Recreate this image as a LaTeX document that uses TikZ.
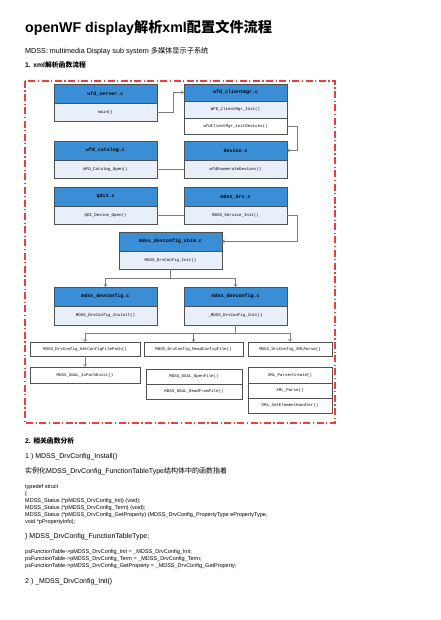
\documentclass[tikz,border=0pt]{standalone}
\usepackage{fontspec}
\setmainfont{Liberation Sans}
\setmonofont{Liberation Mono}
\newfontfamily\cjk{Noto Sans CJK SC}
\usetikzlibrary{positioning,arrows.meta}
\definecolor{hdrblue}{RGB}{58,142,214}
\definecolor{rowblue}{RGB}{232,239,248}
\definecolor{boxline}{RGB}{80,80,80}
\definecolor{linkgray}{RGB}{125,125,125}
\definecolor{framered}{RGB}{232,64,64}
\newcommand{\zh}[1]{{\cjk #1}}
\tikzset{
  hdr/.style={draw=boxline, fill=hdrblue, line width=0.6pt, minimum width=103pt, minimum height=19pt,
    inner sep=0pt, outer sep=0pt, anchor=north west, font=\ttfamily\bfseries\fontsize{5}{6}\selectfont},
  row/.style={draw=boxline, fill=rowblue, line width=0.6pt, minimum width=103pt, minimum height=18pt,
    inner sep=0pt, outer sep=0pt, font=\ttfamily\fontsize{4.1}{5}\selectfont},
  cell/.style={row, fill=white, minimum height=15pt, anchor=north west},
  link/.style={draw=linkgray, line width=0.6pt},
  arr/.style={link, -{Straight Barb[length=2.2pt,width=3.2pt]}},
  txt/.style={anchor=base west, inner sep=0pt},
  frame/.style={draw=framered, line width=1.2pt, dash pattern=on 7pt off 2.5pt on 1.2pt off 2.5pt},
}
\begin{document}
\begin{tikzpicture}[x=1pt,y=-1pt]
\useasboundingbox[fill=white] (0,0) rectangle (440,620);
% headings
\node[txt, font=\bfseries\fontsize{14.2}{16}\selectfont] (title) at (25,33) {openWF display\zh{解析}xml\zh{配置文件流程}};
\node[txt, font=\fontsize{7.2}{8}\selectfont] (sub) at (25,54) {MDSS: multimedia Display sub system \zh{多媒体显示子系统}};
\node[txt, font=\bfseries\fontsize{6.8}{8}\selectfont] (sec1) at (25,68) {1. xml\zh{解析函数流程}};
% frame round the flow
\draw[frame] (25,81) rectangle (335,423);
% top blocks
\node[hdr] (srv) at (54,84) {wfd\_server.c};
\node[row, below=0pt of srv] (srvmain) {main()};
\node[hdr, minimum height=17pt] (cmgr) at (184,84) {wfd\_clientmgr.c};
\node[row, minimum height=17pt, below=0pt of cmgr] (cmgrinit) {WFD\_ClientMgr\_Init()};
\node[row, fill=white, minimum height=16pt, below=0pt of cmgrinit] (cmgrdev) {wfdClientMgr\_initDevices()};
\node[hdr] (cat) at (54,141) {wfd\_catalog.c};
\node[row, below=0pt of cat] (catopen) {WFD\_Catalog\_Open()};
\node[hdr] (dev) at (184,141) {device.c};
\node[row, below=0pt of dev] (devenum) {wfdEnumerateDevices()};
\node[hdr] (qdi) at (54,187) {qdi3.c};
\node[row, below=0pt of qdi] (qdiopen) {QDI\_Device\_Open()};
\node[hdr] (drv) at (184,187) {mdss\_drv.c};
\node[row, below=0pt of drv] (drvinit) {MDSS\_Service\_Init()};
\node[hdr] (shim) at (119,232) {mdss\_devconfig\_shim.c};
\node[row, below=0pt of shim] (shiminit) {MDSS\_DrvConfig\_Init()};
\node[hdr] (cfgl) at (54,287) {mdss\_devconfig.c};
\node[row, minimum height=19pt, below=0pt of cfgl] (cfglinst) {MDSS\_DrvConfig\_Install()};
\node[hdr] (cfgr) at (184,287) {mdss\_devconfig.c};
\node[row, minimum height=19pt, below=0pt of cfgr] (cfgrinit) {\_MDSS\_DrvConfig\_Init()};
% bottom blocks
\node[cell, minimum width=110pt, minimum height=14pt] (getpath) at (30,342) {MDSS\_DrvConfig\_GetConfigFilePath()};
\node[cell, minimum width=99pt, minimum height=14pt] (readcfg) at (144,342) {MDSS\_DrvConfig\_ReadConfigFile()};
\node[cell, minimum width=84pt, minimum height=14pt] (xmlpar) at (248,342) {MDSS\_DrvConfig\_XMLParse()};
\node[cell, minimum width=110pt, minimum height=16pt] (ispath) at (30,367) {MDSS\_OSAL\_IsPathExist()};
\node[cell, minimum width=96pt] (openf) at (146,369) {MDSS\_OSAL\_OpenFile()};
\node[cell, minimum width=96pt, below=0pt of openf] (readf) {MDSS\_OSAL\_ReadFromFile()};
\node[cell, minimum width=84pt, minimum height=16pt] (xmlcr) at (248,367) {XML\_ParserCreate()};
\node[cell, minimum width=84pt, below=0pt of xmlcr] (xmlp) {XML\_Parse()};
\node[cell, minimum width=84pt, below=0pt of xmlp] (xmlh) {XML\_SetElementHandler()};
% connectors
\draw[arr] (srvmain.east) -- ++(16,0) |- (cmgr.west);
\draw[arr] (cmgrdev.east) -- ++(10,0) |- (dev.east);
\draw[link] (devenum.west) -- (catopen.east);
\draw[link] (qdiopen.east) -- (drvinit.west);
\draw[arr] (drvinit.east) -- ++(10,0) |- (shim.east);
\draw[link] (shiminit.south) -- ++(0,9) coordinate (split1);
\draw[arr] (split1) -| (cfgl.north);
\draw[arr] (split1) -| (cfgr.north);
\draw[link] (cfgrinit.south) -- ++(0,8) coordinate (split2);
\draw[arr] (split2) -| (getpath.north);
\draw[arr] (split2) -| (readcfg.north);
\draw[arr] (split2) -| (xmlpar.north);
\draw[arr] (getpath.south) -- (ispath.north);
% analysis text
\node[txt, font=\bfseries\fontsize{6.8}{8}\selectfont] (sec2) at (25,443) {2. \zh{相关函数分析}};
\node[txt, font=\fontsize{7}{8}\selectfont] (p1) at (25,458) {1 ) MDSS\_DrvConfig\_Install()};
\node[txt, font=\fontsize{7}{8}\selectfont] (p2) at (25,473) {\zh{实例化}MDSS\_DrvConfig\_FunctionTableType\zh{结构体中的函数指着}};
\node[txt, font=\fontsize{5.5}{7}\selectfont] (c1) at (25,488) {typedef struct};
\node[txt, font=\fontsize{5.5}{7}\selectfont] (c2) at (25,495) {\{};
\node[txt, font=\fontsize{5.5}{7}\selectfont] (c3) at (25,502) {MDSS\_Status (*pMDSS\_DrvConfig\_Init) (void);};
\node[txt, font=\fontsize{5.5}{7}\selectfont] (c4) at (25,509) {MDSS\_Status (*pMDSS\_DrvConfig\_Term) (void);};
\node[txt, font=\fontsize{5.5}{7}\selectfont] (c5) at (25,516) {MDSS\_Status (*pMDSS\_DrvConfig\_GetProperty) (MDSS\_DrvConfig\_PropertyType ePropertyType,};
\node[txt, font=\fontsize{5.5}{7}\selectfont] (c6) at (25,523) {void *pPropertyInfo);};
\node[txt, font=\fontsize{7}{8}\selectfont] (p3) at (25,538) {\} MDSS\_DrvConfig\_FunctionTableType;};
\node[txt, font=\fontsize{5.5}{7}\selectfont] (c7) at (25,553) {psFunctionTable->pMDSS\_DrvConfig\_Init = \_MDSS\_DrvConfig\_Init;};
\node[txt, font=\fontsize{5.5}{7}\selectfont] (c8) at (25,560) {psFunctionTable->pMDSS\_DrvConfig\_Term = \_MDSS\_DrvConfig\_Term;};
\node[txt, font=\fontsize{5.5}{7}\selectfont] (c9) at (25,567) {psFunctionTable->pMDSS\_DrvConfig\_GetProperty = \_MDSS\_DrvConfig\_GetProperty;};
\node[txt, font=\fontsize{7}{8}\selectfont] (p4) at (25,583) {2 ) \_MDSS\_DrvConfig\_Init()};
\end{tikzpicture}
\end{document}
